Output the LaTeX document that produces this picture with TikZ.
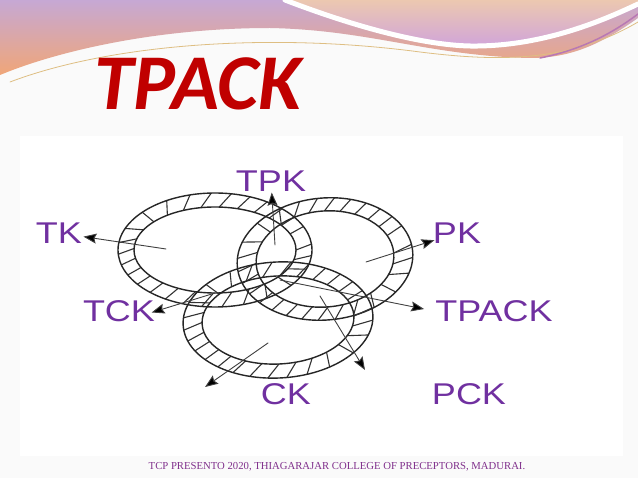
\documentclass[tikz,border=0pt]{standalone}
\usepackage{fontspec}
\newfontfamily\labelfont{Liberation Sans}
\newfontfamily\titlefont{Carlito}
\newfontfamily\footfont{Liberation Serif}
\usetikzlibrary{arrows.meta}
\definecolor{tplabel}{RGB}{112,48,160}
\definecolor{tptitle}{RGB}{192,0,0}
\definecolor{tpfoot}{RGB}{128,48,140}
\definecolor{bandlav}{RGB}{198,168,212}
\definecolor{bandorange}{RGB}{240,166,120}
\definecolor{bandpeach}{RGB}{236,200,176}
\definecolor{bandlilac}{RGB}{208,164,218}
\definecolor{bandgold}{RGB}{222,190,130}
\definecolor{bandplum}{RGB}{184,120,180}
\begin{document}
\begin{tikzpicture}[x=1pt,y=-1pt,line join=round,line cap=round]
	\tikzset{ringline/.style={draw=black!85,line width=1.4pt},
		hatch/.style={black!80,line width=1.1pt},
		tplbl/.style={font=\labelfont\fontsize{30}{36}\selectfont,text=tplabel,xscale=1.2,inner sep=1pt},
		pointer/.style={draw=black!75,line width=0.9pt,-{Stealth[length=13pt,width=10pt,inset=2pt,fill=black]}}}
	\useasboundingbox (0,0) rectangle (638,478);
	% slide background and top band
	\fill[black!2] (0,0) rectangle (638,478);
	\fill[white] (20,136) rectangle (623,456);
	\shade[top color=bandlav,bottom color=bandorange] (0,0) -- (638,0) -- (638,18) .. controls (600,45) and (570,58) .. (530,58) .. controls (430,56) and (370,30) .. (270,28) .. controls (160,28) and (60,50) .. (0,75) -- cycle;
	\shade[top color=bandpeach,bottom color=bandlilac] (285,0) .. controls (350,25) and (420,45) .. (470,46) .. controls (540,47) and (600,22) .. (638,4) -- (638,0) -- cycle;
	\draw[white,line width=5pt] (285,0) .. controls (350,25) and (420,45) .. (470,46) .. controls (540,47) and (600,22) .. (638,4);
	\draw[bandgold,line width=0.8pt] (10,82) .. controls (110,44) and (270,32) .. (420,52) .. controls (500,62) and (570,62) .. (638,22);
	\draw[bandplum,line width=1.5pt] (540,58) .. controls (580,50) and (610,35) .. (638,14);
	% title and footer
	\node[font=\titlefont\bfseries\itshape\fontsize{79}{80}\selectfont,text=tptitle] (title) at (198,84) {TPACK};
	\node[font=\footfont\fontsize{10.7}{13}\selectfont,text=tpfoot] (footer) at (337,467) {TCP PRESENTO 2020, THIAGARAJAR COLLEGE OF PRECEPTORS, MADURAI.};
	% hatched rings
	\foreach \cx/\cy/\rot/\ox/\oy/\ix/\iy in {215/250/0/97/57/81/43,325/259/5/88/61/69/48,278/320/3/95/58/76/44}
	{
		\begin{scope}[shift={(\cx,\cy)},rotate=\rot]
			\begin{scope}[even odd rule]
				\clip (0,0) ellipse[x radius=\ox,y radius=\oy] (0,0) ellipse[x radius=\ix,y radius=\iy];
				\foreach \t in {0,13,...,350}
				\draw[hatch] ({\ix*cos(\t)},{\iy*sin(\t)}) -- ++({60*(1.089*cos(\t)-0.765*sin(\t))},{60*(0.881*sin(\t)-0.417*cos(\t))});
			\end{scope}
			\draw[ringline] (0,0) ellipse[x radius=\ox,y radius=\oy];
			\draw[ringline] (0,0) ellipse[x radius=\ix,y radius=\iy];
		\end{scope}
	}
	% labels
	\node[tplbl] (tpk) at (271,181) {TPK};
	\node[tplbl] (tk) at (59,233) {TK};
	\node[tplbl] (pk) at (457,233) {PK};
	\node[tplbl] (tck) at (119,311) {TCK};
	\node[tplbl] (tpack) at (494,311) {TPACK};
	\node[tplbl] (ck) at (286,394) {CK};
	\node[tplbl] (pck) at (469,394) {PCK};
	% pointers
	\coordinate (tkin) at (166,249);
	\coordinate (tpkin) at (275,245);
	\coordinate (pkin) at (366,262);
	\coordinate (tckin) at (215,293);
	\coordinate (tpackin) at (280,280);
	\coordinate (ckin) at (268,343);
	\coordinate (ckout) at (205,387);
	\coordinate (pckin) at (320,296);
	\coordinate (pckout) at (365,370);
	\draw[pointer] (tkin) -- (tk);
	\draw[pointer] (tpkin) -- (tpk);
	\draw[pointer,shorten >=-3pt] (pkin) -- (pk);
	\draw[pointer,shorten >=-5pt] (tckin) -- (tck.east);
	\draw[pointer,shorten >=10pt] (tpackin) -- (tpack.west);
	\draw[pointer] (ckin) -- (ckout);
	\draw[pointer] (pckin) -- (pckout);
\end{tikzpicture}
\end{document}
